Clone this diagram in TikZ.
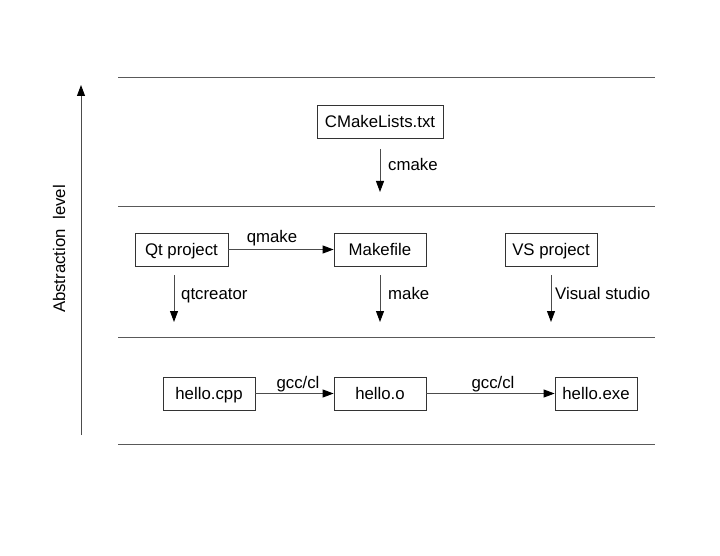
\documentclass[tikz,border=0pt]{standalone}
\usepackage{fontspec}
\setmainfont{Liberation Sans}
\usetikzlibrary{arrows.meta}
\tikzset{
  box/.style={draw=black!80, line width=0.8pt, minimum height=33pt, inner sep=0pt, text height=13pt, text depth=1pt, font=\fontsize{16.8}{20}\selectfont},
  lab/.style={font=\fontsize{16.8}{20}\selectfont, inner sep=0pt, text height=13pt, text depth=1pt},
  arr/.style={draw=black!70, line width=0.9pt, -{Triangle[length=11pt,width=8pt,fill=black,color=black]}},
  level/.style={draw=black!65, line width=1pt}
}
\begin{document}
\begin{tikzpicture}[x=1pt,y=-1pt]
\useasboundingbox (0,0) rectangle (720,556);
% level lines
\coordinate (l1a) at (118,78);  \coordinate (l1b) at (655,78);
\coordinate (l2a) at (118,207); \coordinate (l2b) at (655,207);
\coordinate (l3a) at (118,337); \coordinate (l3b) at (655,337);
\coordinate (l4a) at (118,444); \coordinate (l4b) at (655,444);
\draw[level] (l1a) -- (l1b);
\draw[level] (l2a) -- (l2b);
\draw[level] (l3a) -- (l3b);
\draw[level] (l4a) -- (l4b);
% abstraction axis
\coordinate (axb) at (81,435);
\coordinate (axt) at (81,85);
\draw[arr] (axb) -- (axt);
\node[lab, rotate=90] (axl) at (59,249) {Abstraction\ \ level};
% nodes
\node[box, minimum width=126pt] (cml) at (380,122) {CMakeLists.txt};
\node[box, minimum width=93pt] (qt) at (181.5,249.5) {Qt project};
\node[box, minimum width=92pt] (mk) at (380,249.5) {Makefile};
\node[box, minimum width=92pt] (vs) at (551,249.5) {VS project};
\node[box, minimum width=92pt] (cpp) at (209,393.5) {hello.cpp};
\node[box, minimum width=92pt] (obj) at (380,393.5) {hello.o};
\node[box, minimum width=82pt] (exe) at (596,393.5) {hello.exe};
% free ends
\coordinate (cmend) at (380,192);
\coordinate (qtend) at (174,322);
\coordinate (qtstart) at (174,275);
\coordinate (mkend) at (380,322);
\coordinate (vsend) at (551,322);
% connectors
\draw[arr, shorten <=10pt] (cml) -- (cmend);
\draw[arr] (qt) -- (mk);
\draw[arr] (qtstart) -- (qtend);
\draw[arr, shorten <=9pt] (mk) -- (mkend);
\draw[arr, shorten <=9pt] (vs) -- (vsend);
\draw[arr] (cpp) -- (obj);
\draw[arr] (obj) -- (exe);
% labels
\node[lab, anchor=west] (lcm) at (388,165) {cmake};
\node[lab] (lqm) at (272,236) {qmake};
\node[lab, anchor=west] (lqc) at (181,293) {qtcreator};
\node[lab, anchor=west] (lmk) at (388,293) {make};
\node[lab, anchor=west] (lvs) at (555,293) {Visual studio};
\node[lab] (lg1) at (298,382) {gcc/cl};
\node[lab] (lg2) at (493,382) {gcc/cl};
\end{tikzpicture}
\end{document}
